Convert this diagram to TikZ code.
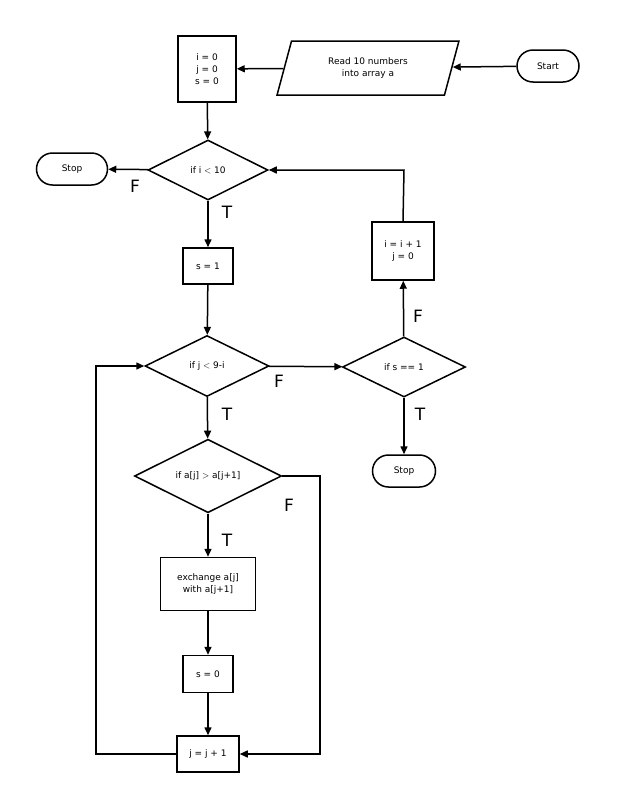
\documentclass[tikz,border=0pt]{standalone}
\usepackage{fontspec}
\setmainfont{DejaVu Sans}
\usetikzlibrary{shapes.geometric,shapes.misc,arrows.meta}
\begin{document}
\begin{tikzpicture}[x=1pt,y=-1pt,
  base/.style={draw=black,line width=1.5pt,font=\fontsize{9}{12}\selectfont,align=center,inner sep=0pt},
  box/.style={base,rectangle},
  term/.style={base,rounded rectangle},
  dec/.style={base,diamond},
  io/.style={base,trapezium,trapezium left angle=70,trapezium right angle=110,trapezium stretches=true},
  ar/.style={line width=1.5pt,-{Triangle[length=8pt,width=7pt]}},
  lab/.style={font=\fontsize{17}{17}\selectfont}]
\useasboundingbox (0,0) rectangle (632,801);
\node[term,minimum width=62pt,minimum height=32pt] (start) at (548,66) {Start};
\node[io,minimum width=183pt,minimum height=54pt] (read) at (368,68) {Read 10 numbers\\into array a};
\node[box,minimum width=58pt,minimum height=66pt] (init) at (207,69) {i = 0\\j = 0\\s = 0};
\node[dec,minimum width=120pt,minimum height=60pt] (d1) at (208,170) {if i $<$ 10};
\node[term,minimum width=71pt,minimum height=32pt] (stop1) at (72,169) {Stop};
\node[box,minimum width=50pt,minimum height=36pt] (s1) at (208,266) {s = 1};
\node[dec,minimum width=124pt,minimum height=61pt] (d2) at (207,366) {if j $<$ 9-i};
\node[dec,minimum width=123pt,minimum height=60pt] (d3) at (404,367) {if s == 1};
\node[box,minimum width=62pt,minimum height=58pt] (inc) at (403,251) {i = i + 1\\j = 0};
\node[term,minimum width=63pt,minimum height=32pt] (stop2) at (404,471) {Stop};
\node[dec,minimum width=147pt,minimum height=73pt] (d4) at (208,476) {if a[j] $>$ a[j+1]};
\node[box,minimum width=95pt,minimum height=53pt] (ex) at (208,584) {exchange a[j]\\with a[j+1]};
\node[box,minimum width=50pt,minimum height=37pt] (s0) at (208,674) {s = 0};
\node[box,minimum width=62pt,minimum height=36pt] (jinc) at (208,754) {j = j + 1};
\coordinate (c1) at (404,170);
\coordinate (c2) at (320,476);
\coordinate (c3) at (320,754);
\coordinate (c4) at (96,754);
\coordinate (c5) at (96,366);
\draw[ar] (start) -- (read);
\draw[ar] (read) -- (init);
\draw[ar] (init) -- (d1);
\draw[ar] (d1) -- (stop1);
\draw[ar] (d1) -- (s1);
\draw[ar] (s1) -- (d2);
\draw[ar] (d2) -- (d3);
\draw[ar] (d3) -- (inc);
\draw[ar] (inc.north) -- (c1) -- (d1.east);
\draw[ar] (d3) -- (stop2);
\draw[ar] (d2) -- (d4);
\draw[ar] (d4) -- (ex);
\draw[ar] (ex) -- (s0);
\draw[ar] (s0) -- (jinc);
\draw[ar] (d4.east) -- (c2) -- (c3) -- (jinc.east);
\draw[ar] (jinc.west) -- (c4) -- (c5) -- (d2.west);
\node[lab] (f1) at (135,186) {F};
\node[lab] (t1) at (227,212) {T};
\node[lab] (f2) at (279,381) {F};
\node[lab] (t2) at (227,414) {T};
\node[lab] (f3) at (418,316) {F};
\node[lab] (t3) at (420,414) {T};
\node[lab] (f4) at (289,505) {F};
\node[lab] (t4) at (227,540) {T};
\end{tikzpicture}
\end{document}
